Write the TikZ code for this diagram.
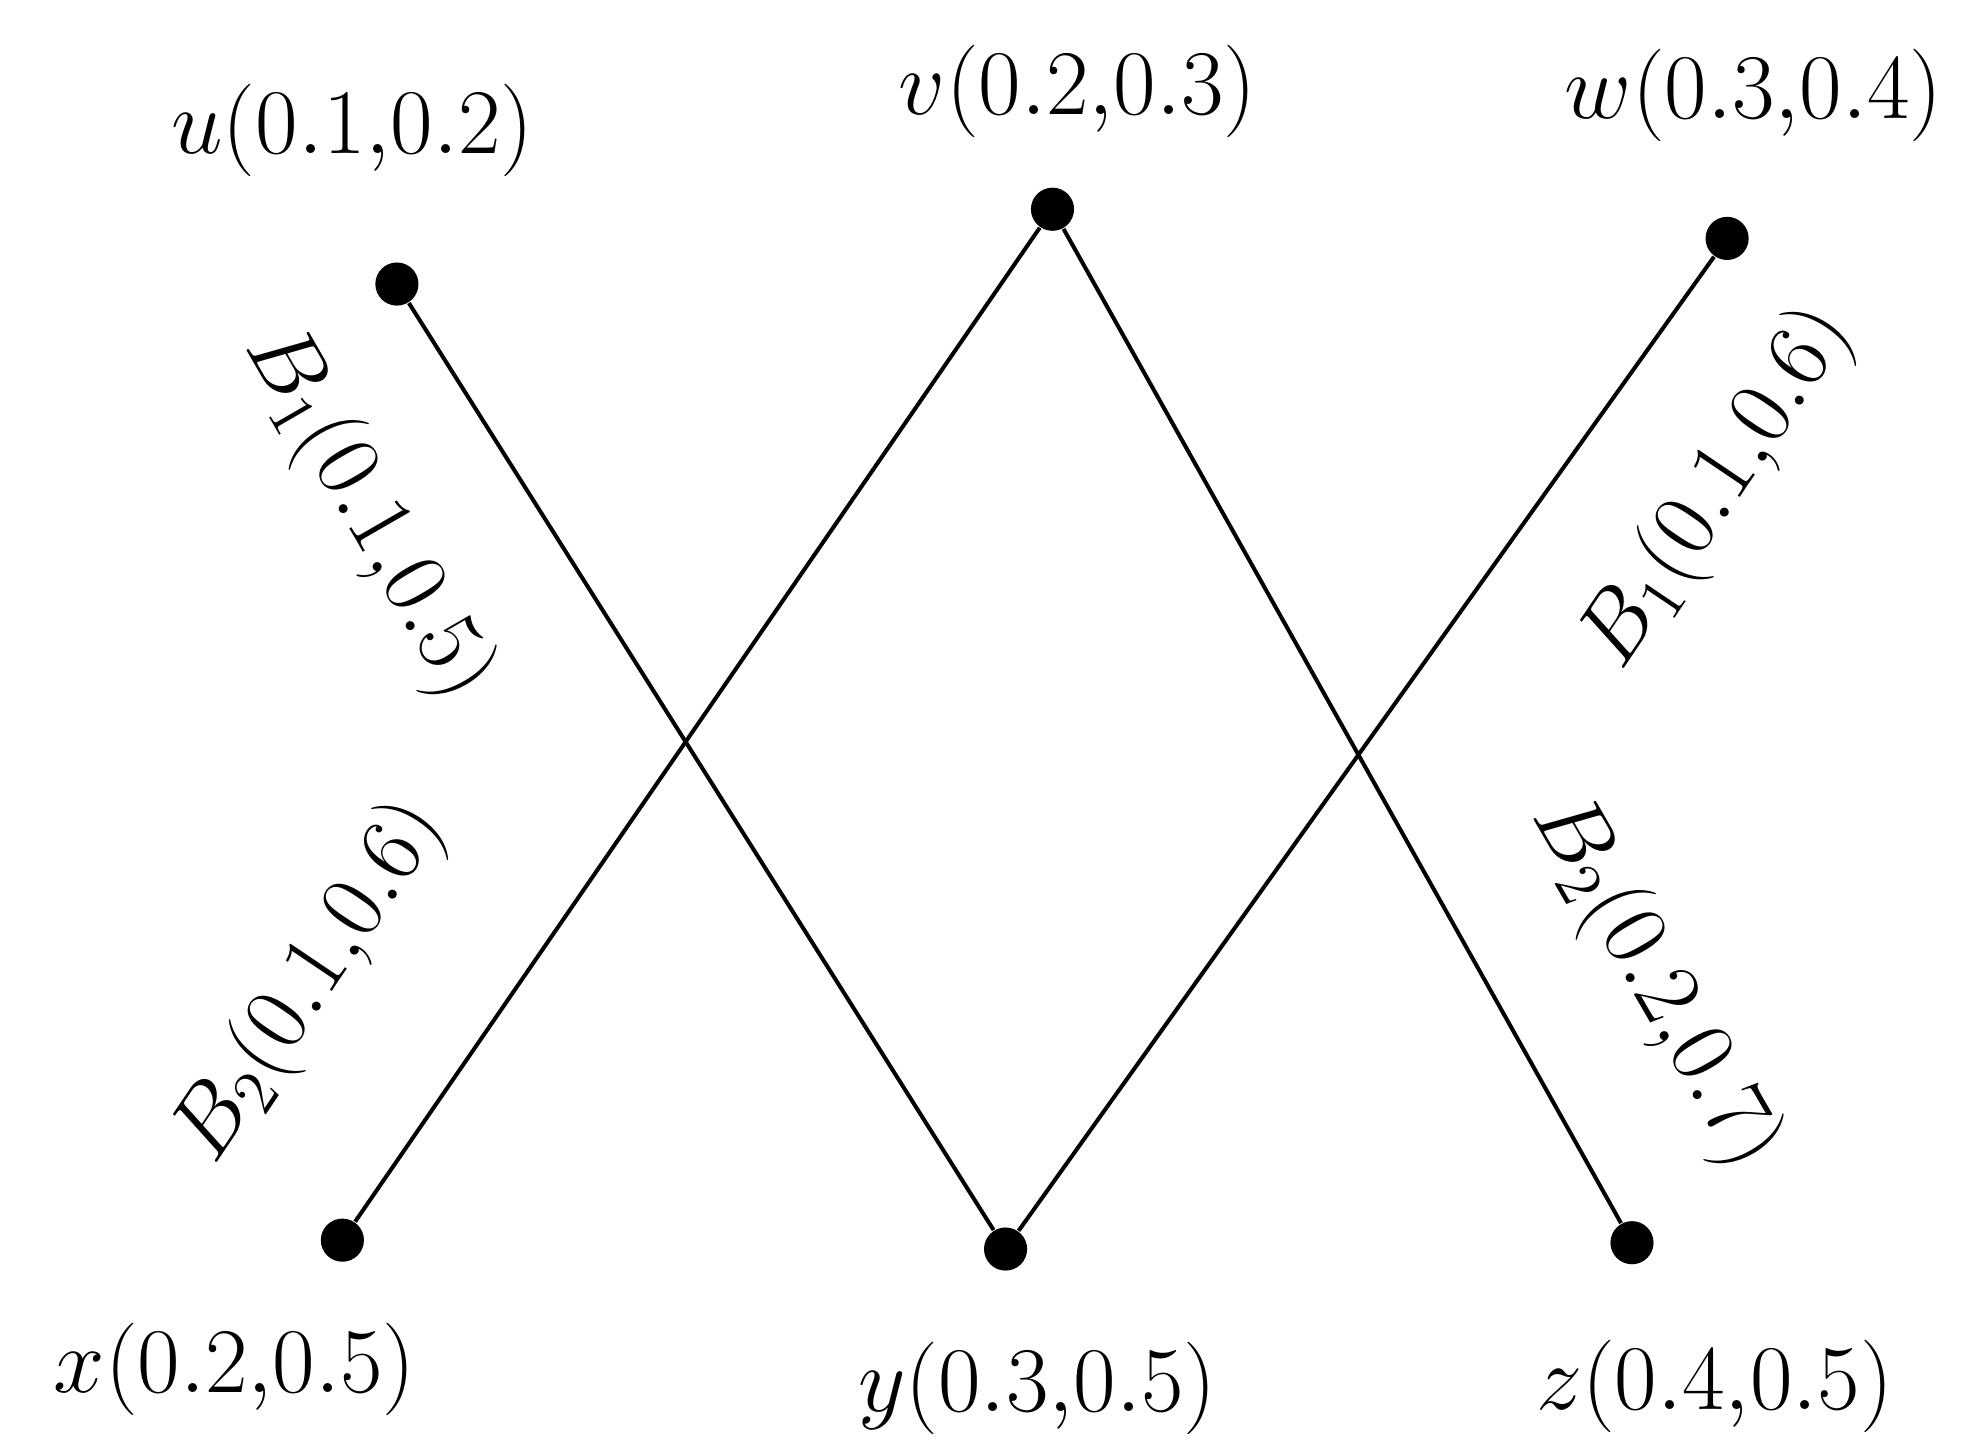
\documentclass[tikz,border=0pt]{standalone}
\begin{document}
\begin{tikzpicture}[x=0.01cm,y=-0.01cm,
  dot/.style={circle,fill=black,inner sep=0pt,minimum size=0.34cm},
  lbl/.style={font=\fontsize{21}{25}\selectfont},
  edge/.style={line width=0.9pt}]
\useasboundingbox (0,0) rectangle (1552,1148);
\node[dot] (u) at (313,224) {};
\node[dot] (v) at (830,165) {};
\node[dot] (w) at (1362,188) {};
\node[dot] (x) at (270,978) {};
\node[dot] (y) at (793,985) {};
\node[dot] (z) at (1287,980) {};
\node[lbl] (lu) at (278,103) {$u(0.1{,}0.2)$};
\node[lbl] (lv) at (850,72) {$v(0.2{,}0.3)$};
\node[lbl] (lw) at (1383,75) {$w(0.3{,}0.4)$};
\node[lbl] (lx) at (185,1080) {$x(0.2{,}0.5)$};
\node[lbl] (ly) at (818,1095) {$y(0.3{,}0.5)$};
\node[lbl] (lz) at (1352,1093) {$z(0.4{,}0.5)$};
\draw[edge] (u) -- (y);
\draw[edge] (x) -- (v);
\draw[edge] (v) -- (z);
\draw[edge] (y) -- (w);
\node[lbl,rotate=-60] (e1) at (290,405) {$B_1(0.1{,}0.5)$};
\node[lbl,rotate=56] (e2) at (245,775) {$B_2(0.1{,}0.6)$};
\node[lbl,rotate=56] (e3) at (1355,385) {$B_1(0.1{,}0.6)$};
\node[lbl,rotate=-60] (e4) at (1305,775) {$B_2(0.2{,}0.7)$};
\end{tikzpicture}
\end{document}
